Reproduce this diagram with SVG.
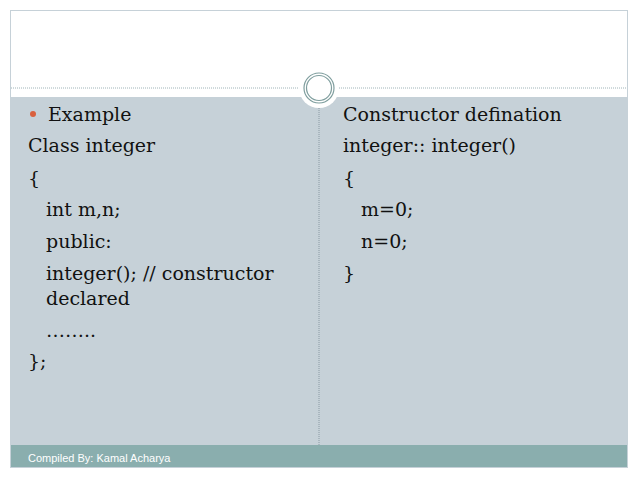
<svg xmlns="http://www.w3.org/2000/svg" width="638" height="478" viewBox="0 0 638 478">
<style>
.t{font-family:"DejaVu Serif","Liberation Serif",serif;font-size:19px;fill:#111}
</style>
<rect width="638" height="478" fill="#fff"/>
<g id="frame">
<rect x="10.5" y="10.5" width="617" height="457" fill="#fff" stroke="#c6d1d8"/>
<rect x="11" y="97" width="616" height="348" fill="#c6d1d8"/>
<rect x="11" y="445" width="616" height="22" fill="#8aaeae"/>
<line x1="11" y1="88" x2="627" y2="88" stroke="#9fb4b8" stroke-dasharray="1,1"/>
<line x1="319" y1="100" x2="319" y2="445" stroke="#8a9aa4" stroke-dasharray="1,1"/>
<circle cx="319" cy="88" r="20" fill="#fff"/>
<circle cx="319" cy="88" r="15" fill="none" stroke="#7f9e9e" stroke-width="1.2"/>
<circle cx="319" cy="88" r="12.5" fill="none" stroke="#7f9e9e" stroke-width="1.2"/>
<text x="28" y="462" font-family="Liberation Sans,sans-serif" font-size="11" fill="#fff">Compiled By: Kamal Acharya</text>
</g>
<g id="left">
<circle cx="33" cy="114" r="3" fill="#d9603e"/>
<text class="t" x="48" y="121">Example</text>
<text class="t" x="28" y="152">Class integer</text>
<text class="t" x="28" y="185">{</text>
<text class="t" x="46" y="216">int m,n;</text>
<text class="t" x="46" y="248">public:</text>
<text class="t" x="46" y="280">integer();  // constructor</text>
<text class="t" x="46" y="305">declared</text>
<text class="t" x="46" y="337">……..</text>
<text class="t" x="28" y="368">};</text>
</g>
<g id="right">
<text class="t" x="343" y="121">Constructor defination</text>
<text class="t" x="343" y="152">integer:: integer()</text>
<text class="t" x="343" y="185">{</text>
<text class="t" x="361" y="216">m=0;</text>
<text class="t" x="361" y="248">n=0;</text>
<text class="t" x="343" y="280">}</text>
</g>
</svg>
